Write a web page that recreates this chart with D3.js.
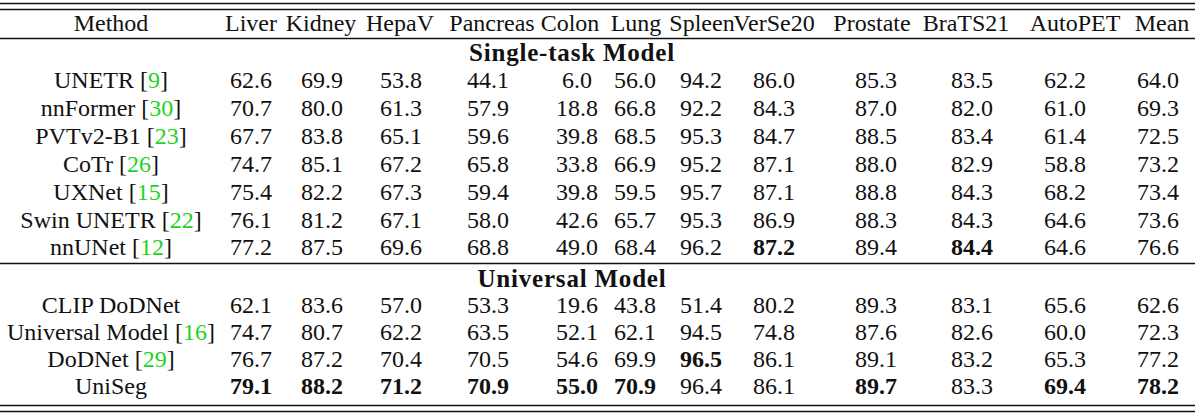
<!DOCTYPE html>
<html>
<head>
<meta charset="utf-8">
<script src="https://cdn.jsdelivr.net/npm/d3@7"></script>
<style>
  body { margin: 0; background: #fff; }
  text { font-family: "Liberation Serif", serif; font-size: 24px; fill: #111; }
</style>
</head>
<body>
<div id="chart"></div>
<script>
var columns = ["Liver", "Kidney", "HepaV", "Pancreas", "Colon", "Lung", "Spleen", "VerSe20", "Prostate", "BraTS21", "AutoPET", "Mean"],
  headX = [251, 321, 400, 492, 570, 636, 702, 774, 872, 966, 1075, 1162],
  colX = [251, 322, 401, 488, 577, 635, 701, 774, 876, 972, 1065, 1158];

var singleNames = ["UNETR", "nnFormer", "PVTv2-B1", "CoTr", "UXNet", "Swin UNETR", "nnUNet"],
  singleRefs = ["9", "30", "23", "26", "15", "22", "12"],
  singleValues = [
    [62.6, 69.9, 53.8, 44.1, 6.0, 56.0, 94.2, 86.0, 85.3, 83.5, 62.2, 64.0],
    [70.7, 80.0, 61.3, 57.9, 18.8, 66.8, 92.2, 84.3, 87.0, 82.0, 61.0, 69.3],
    [67.7, 83.8, 65.1, 59.6, 39.8, 68.5, 95.3, 84.7, 88.5, 83.4, 61.4, 72.5],
    [74.7, 85.1, 67.2, 65.8, 33.8, 66.9, 95.2, 87.1, 88.0, 82.9, 58.8, 73.2],
    [75.4, 82.2, 67.3, 59.4, 39.8, 59.5, 95.7, 87.1, 88.8, 84.3, 68.2, 73.4],
    [76.1, 81.2, 67.1, 58.0, 42.6, 65.7, 95.3, 86.9, 88.3, 84.3, 64.6, 73.6],
    [77.2, 87.5, 69.6, 68.8, 49.0, 68.4, 96.2, 87.2, 89.4, 84.4, 64.6, 76.6]
  ];
var universalNames = ["CLIP DoDNet", "Universal Model", "DoDNet", "UniSeg"],
  universalRefs = ["", "16", "29", ""],
  universalValues = [
    [62.1, 83.6, 57.0, 53.3, 19.6, 43.8, 51.4, 80.2, 89.3, 83.1, 65.6, 62.6],
    [74.7, 80.7, 62.2, 63.5, 52.1, 62.1, 94.5, 74.8, 87.6, 82.6, 60.0, 72.3],
    [76.7, 87.2, 70.4, 70.5, 54.6, 69.9, 96.5, 86.1, 89.1, 83.2, 65.3, 77.2],
    [79.1, 88.2, 71.2, 70.9, 55.0, 70.9, 96.4, 86.1, 89.7, 83.3, 69.4, 78.2]
  ];

var width = 1197, height = 415, methodX = 111, titleX = 572;

// best value per column over all methods is bold
var allValues = singleValues.concat(universalValues);
var best = columns.map(function(c, j){ return d3.max(allValues, function(r){ return r[j]; }); });

var xHead = d3.scaleOrdinal().domain(columns).range(headX);
var x = d3.scaleOrdinal().domain(columns).range(colX);
var ySingle = d3.scaleLinear().domain([0, 6]).range([80, 247]);
var yUni = d3.scaleLinear().domain([0, 3]).range([305, 386]);

var svg = d3.select("#chart").append("svg")
  .attr("width", width).attr("height", height);

// rules
var rules = [3.5, 9.5, 38.5, 263.5, 405.5, 411.5];
svg.selectAll(".rule").data(rules).enter().append("line")
  .attr("x1", 0).attr("x2", 1195)
  .attr("y1", function(d){ return d; }).attr("y2", function(d){ return d; })
  .attr("stroke", "#111").attr("stroke-width", 1.4);

// header
svg.append("text").attr("x", methodX).attr("y", 23).attr("dy", "0.35em")
  .style("text-anchor", "middle").text("Method");
svg.selectAll(".head").data(columns).enter().append("text")
  .attr("x", function(d){ return xHead(d); }).attr("y", 23).attr("dy", "0.35em")
  .style("text-anchor", "middle").text(function(d){ return d; });

// section titles
svg.selectAll(".section").data([["Single-task Model", 52], ["Universal Model", 278]]).enter().append("text")
  .attr("x", titleX).attr("y", function(d){ return d[1]; }).attr("dy", "0.35em")
  .style("text-anchor", "middle").style("font-weight", "bold").style("font-size", "25px")
  .style("letter-spacing", "0.8px")
  .text(function(d){ return d[0]; });

function drawBlock(names, refs, values, y) {
  var rows = svg.selectAll(null).data(values).enter().append("g")
    .attr("transform", function(d, i){ return "translate(0," + y(i) + ")"; });

  var label = rows.append("text").attr("x", methodX).attr("dy", "0.35em")
    .style("text-anchor", "middle");
  label.append("tspan").text(function(d, i){ return names[i] + (refs[i] ? " [" : ""); });
  label.append("tspan").style("fill", "#1fd21f").text(function(d, i){ return refs[i]; });
  label.append("tspan").text(function(d, i){ return refs[i] ? "]" : ""; });

  rows.selectAll(".cell").data(function(d){ return d; }).enter().append("text")
    .attr("x", function(d, j){ return x(columns[j]); }).attr("dy", "0.35em")
    .style("text-anchor", "middle")
    .style("font-weight", function(d, j){ return d === best[j] ? "bold" : "normal"; })
    .text(function(d){ return d.toFixed(1); });
}

drawBlock(singleNames, singleRefs, singleValues, ySingle);
drawBlock(universalNames, universalRefs, universalValues, yUni);
</script>
</body>
</html>
